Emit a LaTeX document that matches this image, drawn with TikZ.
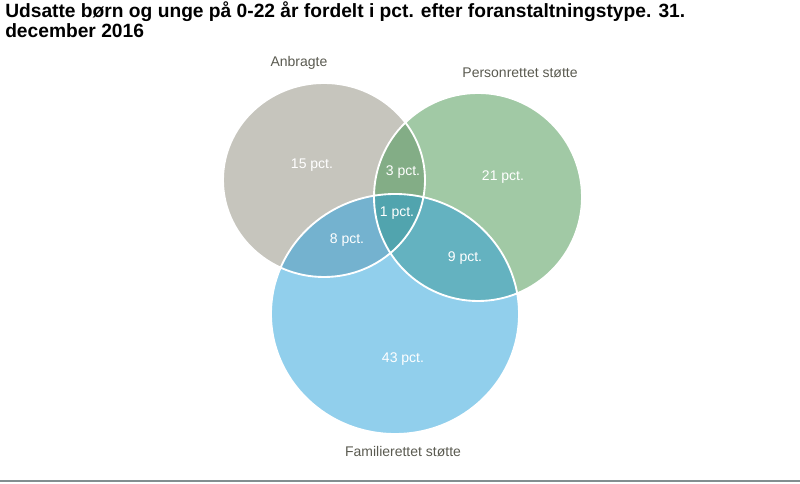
\documentclass[tikz,border=0pt]{standalone}
\usepackage{fontspec}
\setmainfont{Liberation Sans}
\usetikzlibrary{positioning}
\definecolor{anbr}{HTML}{C6C5BD}
\definecolor{pers}{HTML}{A1C9A5}
\definecolor{fami}{HTML}{91CFEC}
\definecolor{anbrpers}{HTML}{83AD86}
\definecolor{anbrfami}{HTML}{74B2CF}
\definecolor{persfami}{HTML}{64B2C0}
\definecolor{alle}{HTML}{51A4AE}
\definecolor{labeltxt}{HTML}{5A5A50}
\definecolor{rule}{HTML}{828E90}

\tikzset{
  pct/.style={text=white, inner sep=0pt, font=\fontsize{10.5}{12}\selectfont},
  settitle/.style={text=labeltxt, inner sep=0pt, font=\fontsize{10.5}{12}\selectfont},
  headline/.style={anchor=base west, inner sep=0pt, font=\fontsize{14.4}{17}\selectfont\bfseries}
}

\begin{document}
\begin{tikzpicture}[x=0.75pt, y=-0.75pt]
  \useasboundingbox (0,0) rectangle (800,484);
  % centres of the three sets
  \coordinate (A) at (324,180);
  \coordinate (P) at (478,197);
  \coordinate (F) at (395,314);
  \def\shapeA{(A) ellipse [x radius=101, y radius=97]}
  \def\shapeP{(P) circle [radius=104]}
  \def\shapeF{(F) ellipse [x radius=124, y radius=120]}
  % base fills
  \fill[anbr] \shapeA;
  \fill[pers] \shapeP;
  \fill[fami] \shapeF;
  % overlaps
  \begin{scope}
    \clip \shapeA; \fill[anbrpers] \shapeP;
  \end{scope}
  \begin{scope}
    \clip \shapeA; \fill[anbrfami] \shapeF;
  \end{scope}
  \begin{scope}
    \clip \shapeP; \fill[persfami] \shapeF;
  \end{scope}
  \begin{scope}
    \clip \shapeA; \clip \shapeP; \fill[alle] \shapeF;
  \end{scope}
  % white borders
  \draw[white, line width=1.4pt] \shapeA \shapeP \shapeF;
  % values
  \node[pct] (vA)   at (312,165) {15 pct.};
  \node[pct] (vAP)  at (403,172) {3 pct.};
  \node[pct] (vP)   at (503,177) {21 pct.};
  \node[pct] (vAPF) at (397,213) {1 pct.};
  \node[pct] (vAF)  at (347,240) {8 pct.};
  \node[pct] (vPF)  at (465,258) {9 pct.};
  \node[pct] (vF)   at (403,359) {43 pct.};
  % set names
  \node[settitle] (nA) at (299,63)  {Anbragte};
  \node[settitle] (nP) at (520,73)  {Personrettet støtte};
  \node[settitle] (nF) at (403,452) {Familierettet støtte};
  % title
  \node[headline] (title1) at (5,18) {Udsatte børn og unge på 0-22 år fordelt i pct. efter foranstaltningstype. 31.};
  \node[headline] (title2) at (5,37.5) {december 2016};
  % bottom rule
  \draw[rule, line width=1.5pt] (0,481) -- (800,481);
\end{tikzpicture}
\end{document}
